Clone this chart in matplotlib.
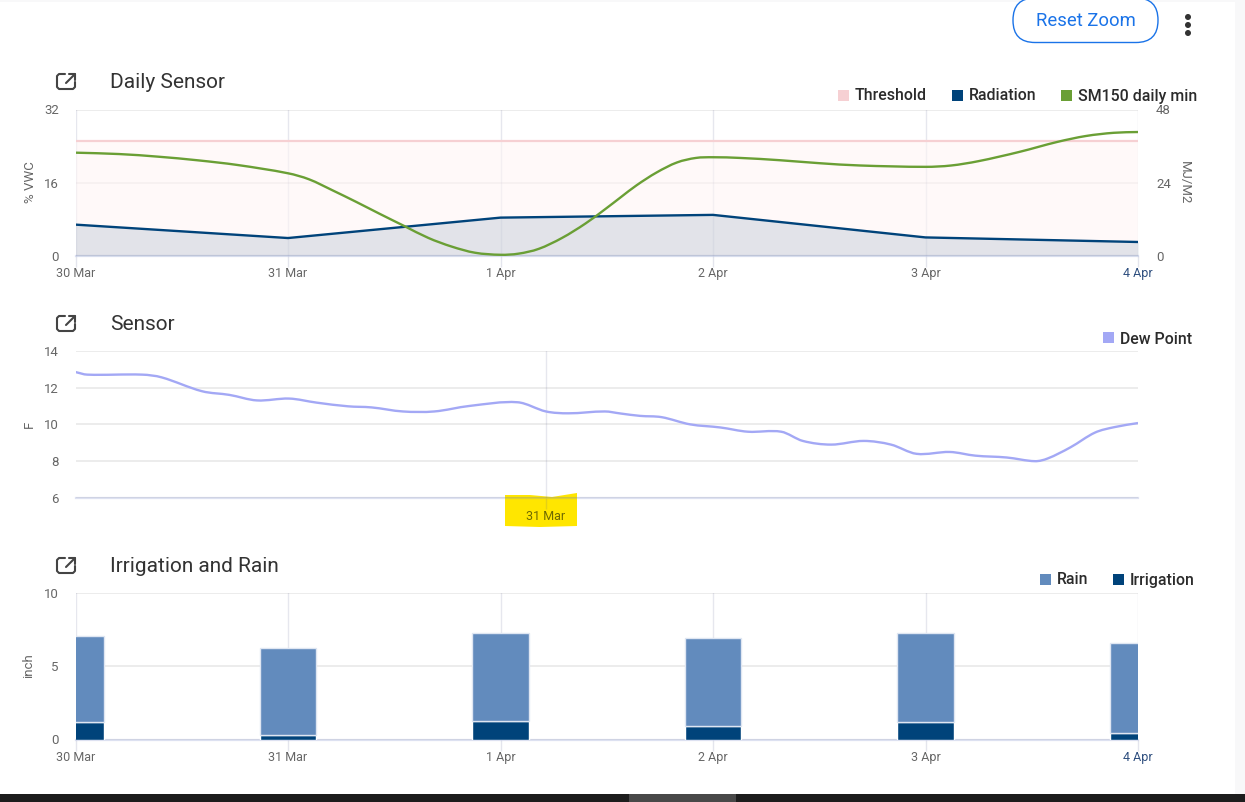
import matplotlib
matplotlib.use("Agg")
import matplotlib.pyplot as plt
from matplotlib.lines import Line2D
from matplotlib.path import Path
from matplotlib.patches import Rectangle, Polygon, FancyBboxPatch, Circle, PathPatch

W, H = 1245, 802

# Daily Sensor (x is days since 30 Mar)
day_labels = ["30 Mar", "31 Mar", "1 Apr", "2 Apr", "3 Apr", "4 Apr"]
days = [0, 1, 2, 3, 4, 5]
threshold = [25, 25, 25, 25, 25, 25]
radiation = [10.2, 5.8, 12.5, 13.4, 6.0, 4.5]
sm150_days = [0, 0.205, 0.39, 0.577, 0.763, 1, 1.1, 1.21, 1.32, 1.43, 1.547, 1.66, 1.77,
              1.88, 2, 2.085, 2.18, 2.29, 2.4, 2.493, 2.566, 2.64, 2.734, 2.83, 2.92, 3,
              3.127, 3.314, 3.5, 3.69, 4, 4.12, 4.25, 4.44, 4.62, 4.755, 4.886, 5]
sm150 = [22.55, 22.25, 21.67, 20.87, 19.85, 18.04, 16.7, 14.3, 11.8, 9.2, 6.5, 3.9, 2.0,
         0.65, 0.2, 0.45, 1.5, 3.9, 7.05, 10.2, 12.8, 15.4, 18.2, 20.4, 21.4, 21.55,
         21.4, 20.9, 20.25, 19.75, 19.45, 19.74, 20.7, 22.7, 24.9, 26.2, 26.9, 27.07]

# Sensor (x is hours since the left edge of the zoomed range)
dew_hours = [0, 0.6, 3.4, 4.4, 6.45, 7.85, 9.25, 10.9, 12.3, 13.9, 15.1, 16.7, 18.3, 20.1,
             22.55, 24, 25.15, 27, 27.8, 28.8, 29.9, 31.35, 32.9, 34.3, 36, 37.1, 38.55,
             40.2, 41.6, 42.9, 44.6, 45.9, 47.5, 48.95, 49.6, 50.75, 52, 53, 54.2]
dew_point = [12.84, 12.7, 12.7, 12.55, 11.8, 11.6, 11.3, 11.4, 11.18, 10.98, 10.92, 10.7,
             10.7, 11.0, 11.2, 10.7, 10.6, 10.7, 10.59, 10.46, 10.39, 10.0, 9.83, 9.6,
             9.6, 9.1, 8.9, 9.1, 8.9, 8.4, 8.5, 8.3, 8.2, 8.0, 8.15, 8.75, 9.55, 9.85, 10.07]

# Irrigation and Rain
irrigation = [1.16, 0.34, 1.25, 0.93, 1.16, 0.45]
rain = [5.91, 5.89, 5.98, 5.97, 6.07, 6.15]

TICK_COL = "#666666"
GRID_H = "#737373"
GRID_V = "#596190"
BASE = "#7385c7"
NAVY = "#00437a"
GREEN = "#6a9f35"
LAV = "#a3a8f5"
PINK = "#f6d0d3"
RAIN_COL = "#628bbd"
LEFT = 75.5
RIGHT = 1138

plt.rcParams['font.family'] = ['Roboto', 'DejaVu Sans']

fig = plt.figure(figsize=(W / 100, H / 100), dpi=100)


def fx(x):
    return x / W


def fy(y):
    return 1 - y / H


def make_axes(top, bottom):
    ax = fig.add_axes([fx(LEFT), fy(bottom), (RIGHT - LEFT) / W, (bottom - top) / H])
    ax.patch.set_alpha(0)
    for s in ax.spines.values():
        s.set_visible(False)
    ax.tick_params(axis="y", length=0, labelsize=9.5, labelcolor=TICK_COL, pad=12)
    ax.tick_params(axis="x", length=8, width=1, color=(0.35, 0.38, 0.56, 0.16), labelsize=9,
                   labelcolor=TICK_COL, pad=0)
    ax.grid(axis="y", color=GRID_H, alpha=0.14, lw=1.3, zorder=0)
    ax.grid(axis="x", color=GRID_V, alpha=0.15, lw=1, zorder=0)
    ax.set_axisbelow(True)
    return ax


def base_line(ax, y):
    ax.axhline(y, color=BASE, alpha=0.24, lw=1.6, zorder=1.5, clip_on=False)


def y_label(ax, text, x, **kw):
    ax.set_ylabel(text, fontsize=9.5, color=TICK_COL, va="center", **kw)
    ax.yaxis.set_label_coords((x - LEFT) / (RIGHT - LEFT), 0.5)


def smooth_line(ax, xs, ys, color, lw, zorder):
    # draws the read points joined by cubic curves, like the original's smooth option
    n = len(xs)
    slopes = []
    for i in range(n):
        a, b = max(i - 1, 0), min(i + 1, n - 1)
        slopes.append((ys[b] - ys[a]) / (xs[b] - xs[a]))
    verts = [(xs[0], ys[0])]
    codes = [Path.MOVETO]
    for i in range(n - 1):
        dx = (xs[i + 1] - xs[i]) / 3
        verts += [(xs[i] + dx, ys[i] + slopes[i] * dx),
                  (xs[i + 1] - dx, ys[i + 1] - slopes[i + 1] * dx),
                  (xs[i + 1], ys[i + 1])]
        codes += [Path.CURVE4, Path.CURVE4, Path.CURVE4]
    ax.add_patch(PathPatch(Path(verts, codes), fc="none", ec=color, lw=lw, zorder=zorder,
                           capstyle="butt", joinstyle="round"))


def legend(items, y):
    for sq_x, text_x, col, label in items:
        fig.add_artist(Rectangle((fx(sq_x), fy(y + 5.5)), 11 / W, 11 / H, color=col, lw=0))
        fig.text(fx(text_x), fy(y + 1), label, fontsize=11.4, fontweight="medium", color="#2b2b2b",
                 va="center", ha="left")


def title_icon(cy, title):
    col = "#444444"
    box = [(65, -7), (59, -7), (57, -5), (57, 6), (59, 8), (73, 8), (75, 6), (75, 1)]
    arrow = [(66, 2), (75, -7)]
    head = [(69, -7), (75, -7), (75, -1)]
    for pts in (box, arrow, head):
        fig.add_artist(Line2D([fx(p[0]) for p in pts], [fy(cy + p[1]) for p in pts],
                              color=col, lw=1.5, solid_capstyle="round", solid_joinstyle="round"))
    fig.text(fx(110), fy(cy + 2), title, fontsize=15, color="#333333", va="center", ha="left")


# page furniture
fig.add_artist(Rectangle((fx(1235), 0), 10 / W, 1, color="#f8f8f9", lw=0, zorder=-3))
fig.add_artist(Rectangle((0, fy(2)), 1, 2 / H, color="#f8f8f9", lw=0, zorder=-3))
fig.add_artist(Rectangle((0, 0), 1, 8 / H, color="#1d1d1d", lw=0, zorder=5))
fig.add_artist(Rectangle((fx(629), 0), 107 / W, 8 / H, color="#484848", lw=0, zorder=6))

# Reset Zoom button, drawn in pixels through a full-figure overlay
ui = fig.add_axes([0, 0, 1, 1], zorder=4)
ui.set_xlim(0, W)
ui.set_ylim(H, 0)
ui.axis("off")
ui.add_patch(FancyBboxPatch((1013, -2), 145, 44.5, boxstyle="round,pad=0,rounding_size=22",
                            fc="white", ec="#1a73e8", lw=1, clip_on=True))
ui.text(1085.5, 21, "Reset Zoom", fontsize=13.3, color="#1a73e8", ha="center", va="center")
for dot_y in (17, 25, 33):
    ui.add_patch(Circle((1188, dot_y), 3, color="#333333", lw=0))

# Daily Sensor: threshold below, radiation on the right scale, soil moisture on top
ax1 = make_axes(109.5, 255.7)
ax1b = ax1.twinx()
ax1c = ax1.twinx()
ax1.set_zorder(2)
ax1b.set_zorder(3)
ax1c.set_zorder(4)
for extra in (ax1b, ax1c):
    extra.patch.set_visible(False)
    for s in extra.spines.values():
        s.set_visible(False)

ax1.fill_between(days, threshold, 0, color="#fff5f5", alpha=0.6, lw=0, zorder=1)
ax1.plot(days, threshold, color=PINK, lw=1.6, zorder=2)
ax1b.fill_between(days, radiation, 0, color="#003a70", alpha=0.115, lw=0, zorder=1)
ax1b.plot(days, radiation, color=NAVY, lw=1.7, zorder=3)
smooth_line(ax1c, sm150_days, sm150, GREEN, 1.7, 4)
base_line(ax1, 0)

ax1.set_xlim(0, 5)
ax1.set_ylim(0, 32)
ax1.set_yticks([0, 16, 32])
ax1.set_xticks(days)
ax1.set_xticklabels(day_labels)
ax1.get_xticklabels()[-1].set_color("#2f4f7f")
y_label(ax1, "% VWC", 30)
ax1b.set_ylim(0, 48)
ax1b.set_yticks([0, 24, 48])
ax1b.tick_params(axis="y", length=0, labelsize=9.5, labelcolor=TICK_COL, pad=13)
y_label(ax1b, "MJ/M2", 1184, rotation=270)
ax1c.set_ylim(0, 32)
ax1c.set_yticks([])
title_icon(81, "Daily Sensor")
legend([(838, 855, PINK, "Threshold"), (952, 969, NAVY, "Radiation"),
        (1061, 1078, GREEN, "SM150 daily min")], 95)

# Sensor
fig.add_artist(Polygon([(fx(a), fy(b)) for a, b in
                        [(505, 495), (530, 495), (552, 497), (577, 493), (577, 526),
                         (540, 527), (505, 526)]],
                       closed=True, color="#ffe600", lw=0, zorder=-1))
ax2 = make_axes(350.7, 498)
smooth_line(ax2, dew_hours, dew_point, LAV, 1.7, 3)
base_line(ax2, 6)
ax2.set_xlim(0, 54.2)
ax2.set_ylim(6, 14)
ax2.set_yticks([6, 8, 10, 12, 14])
ax2.set_xticks([24])
ax2.set_xticklabels(["31 Mar"])
ax2.get_xticklabels()[0].set_color("#6f6a00")
ax2.tick_params(axis="x", pad=1)
y_label(ax2, "F", 29)
title_icon(323, "Sensor")
legend([(1103, 1120, LAV, "Dew Point")], 338)

# Irrigation and Rain
ax3 = make_axes(592.7, 739.5)
ax3.bar(days, irrigation, width=0.265, color=NAVY, edgecolor="white", lw=1, zorder=3)
ax3.bar(days, rain, width=0.265, bottom=irrigation, color=RAIN_COL, edgecolor="#dfe6f2", lw=1, zorder=3)
base_line(ax3, 0)
ax3.set_xlim(0, 5)
ax3.set_ylim(0, 10)
ax3.set_yticks([0, 5, 10])
ax3.set_xticks(days)
ax3.set_xticklabels(day_labels)
ax3.get_xticklabels()[-1].set_color("#2f4f7f")
y_label(ax3, "inch", 29)
title_icon(565, "Irrigation and Rain")
legend([(1040, 1057, RAIN_COL, "Rain"), (1113, 1130, NAVY, "Irrigation")], 579)

fig.savefig("out.png", dpi=100)
